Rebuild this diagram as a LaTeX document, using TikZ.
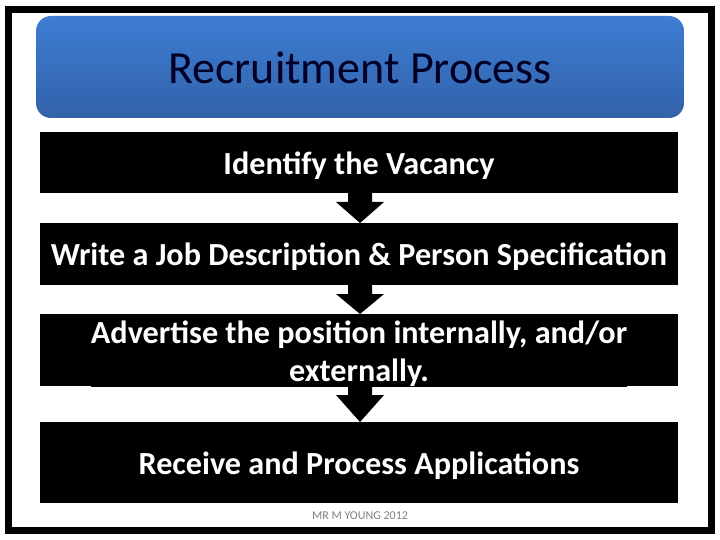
\documentclass[tikz,border=0pt]{standalone}
\usepackage{fontspec}
\setmainfont{Carlito}
\definecolor{btop}{HTML}{3D7DD2}
\definecolor{bbot}{HTML}{3262AA}
\tikzset{
 stepbox/.style={fill=black,text=white,font=\bfseries\fontsize{32.2}{38}\selectfont,align=center,inner sep=0pt},
 arr/.style={fill=black}
}
\begin{document}
\begin{tikzpicture}[x=1pt,y=-1pt]
\useasboundingbox (0,0) rectangle (720,540);
\fill[white] (0,0) rectangle (720,540);
\draw[line width=7pt] (8.5,9.5) rectangle (711.5,530.5);
\shade[top color=btop,bottom color=bbot,rounded corners=15pt] (36,16) rectangle (684,118);
\node[font=\fontsize{46}{50}\selectfont,text=black!85!blue] (title) at (360,68) {Recruitment Process};
\fill (40,132) rectangle (678,193); \node[stepbox] (s1) at (359,166) {Identify the Vacancy};
\fill (40,223) rectangle (678,285); \node[stepbox] (s2) at (359,257) {Write a Job Description \& Person Specification};
\fill (40,314) rectangle (678,386); \node[stepbox] (s3) at (359,354) {Advertise the position internally, and/or\\externally.};
\fill (40,422) rectangle (678,503); \node[stepbox] (s4) at (359,466) {Receive and Process Applications};
\foreach \t/\b in {193/223,285/314,386/422}{
 \fill[arr] (348,\t) -- (372,\t) -- (372,{\t+9}) -- (384,{\t+9}) -- (360,\b) -- (336,{\t+9}) -- (348,{\t+9}) -- cycle;
}
\node[font=\fontsize{12}{14}\selectfont,text=gray] (foot) at (360,516) {MR M YOUNG 2012};
\end{tikzpicture}
\end{document}
